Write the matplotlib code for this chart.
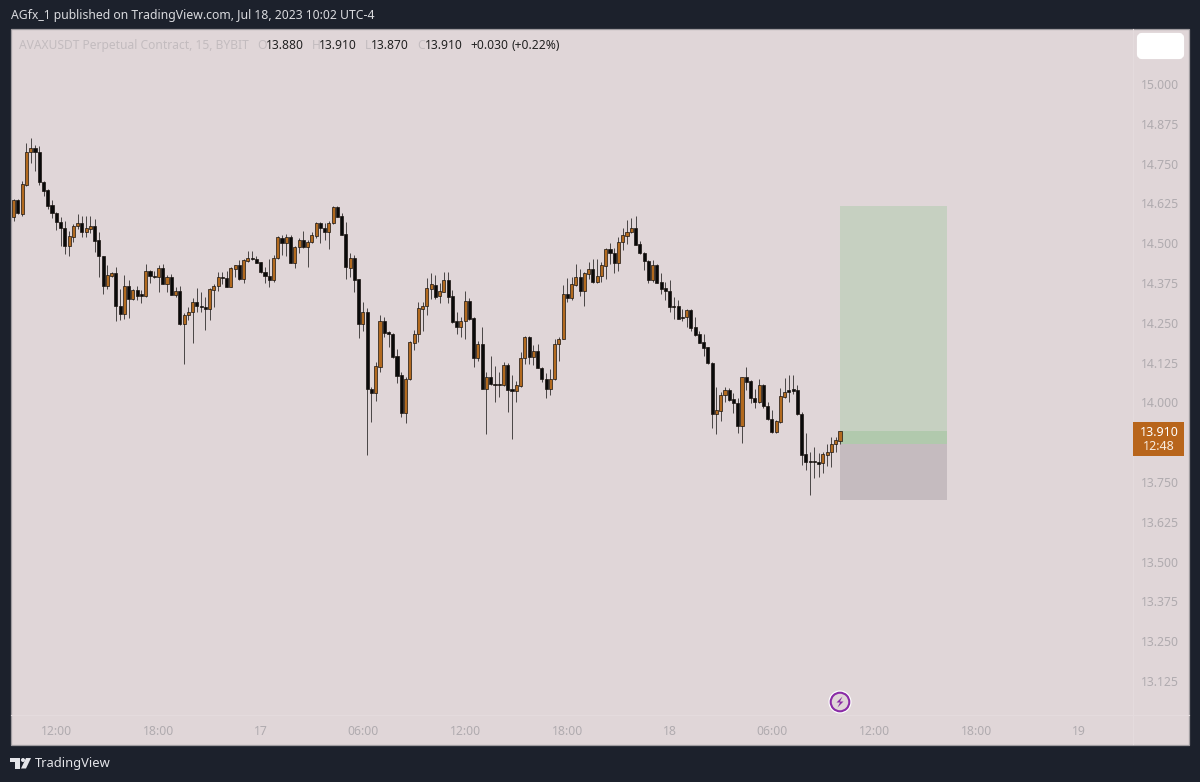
import matplotlib
matplotlib.use("Agg")
import matplotlib.pyplot as plt
from matplotlib.patches import Rectangle, Circle, FancyBboxPatch, Polygon

# ---------- data ----------
opens = [14.582,14.636,14.592,14.684,14.785,14.800,14.785,14.691,14.668,14.619,
 14.596,14.565,14.549,14.490,14.519,14.554,14.564,14.535,14.546,14.555,
 14.509,14.460,14.364,14.398,14.405,14.303,14.278,14.366,14.324,14.353,
 14.336,14.335,14.414,14.398,14.393,14.422,14.372,14.394,14.337,14.349,
 14.247,14.274,14.283,14.315,14.303,14.299,14.294,14.353,14.364,14.394,
 14.390,14.363,14.420,14.430,14.388,14.443,14.454,14.450,14.441,14.409,
 14.398,14.383,14.453,14.517,14.499,14.520,14.439,14.487,14.509,14.487,
 14.503,14.523,14.563,14.549,14.534,14.562,14.615,14.584,14.529,14.423,
 14.453,14.387,14.246,14.284,14.042,14.028,14.112,14.256,14.220,14.215,
 14.146,14.085,13.966,14.072,14.188,14.214,14.293,14.303,14.357,14.370,
 14.333,14.348,14.385,14.334,14.256,14.238,14.254,14.319,14.265,14.139,
 14.184,14.042,14.079,14.059,14.055,14.053,14.118,14.039,14.037,14.051,
 14.139,14.206,14.143,14.160,14.109,14.073,14.042,14.072,14.183,14.199,
 14.339,14.329,14.369,14.394,14.349,14.404,14.420,14.378,14.397,14.428,
 14.481,14.469,14.439,14.504,14.524,14.534,14.549,14.496,14.470,14.445,
 14.384,14.430,14.378,14.358,14.350,14.302,14.303,14.267,14.267,14.290,
 14.236,14.215,14.189,14.173,14.125,13.962,13.973,14.022,14.039,14.010,
 13.999,13.927,14.079,14.066,14.014,14.002,14.055,13.990,13.947,13.906,
 13.938,14.017,14.038,14.039,14.039,13.964,13.838,13.814,13.814,13.813,
 13.809,13.835,13.843,13.868,13.880]
highs = [14.638,14.638,14.694,14.814,14.829,14.809,14.804,14.694,14.670,14.636,
 14.599,14.582,14.571,14.537,14.560,14.591,14.584,14.584,14.584,14.575,
 14.535,14.460,14.430,14.411,14.425,14.356,14.400,14.385,14.356,14.364,
 14.353,14.434,14.416,14.414,14.430,14.434,14.401,14.404,14.362,14.366,
 14.282,14.299,14.327,14.359,14.346,14.330,14.359,14.372,14.409,14.409,
 14.414,14.425,14.432,14.446,14.450,14.474,14.474,14.460,14.442,14.425,
 14.450,14.463,14.521,14.526,14.529,14.526,14.492,14.515,14.539,14.510,
 14.535,14.566,14.566,14.562,14.571,14.617,14.617,14.594,14.565,14.470,
 14.463,14.389,14.316,14.295,14.049,14.128,14.274,14.269,14.224,14.217,
 14.167,14.096,14.081,14.194,14.227,14.314,14.316,14.390,14.405,14.400,
 14.374,14.408,14.408,14.353,14.283,14.267,14.351,14.329,14.267,14.194,
 14.236,14.096,14.146,14.114,14.094,14.128,14.123,14.086,14.068,14.159,
 14.208,14.208,14.180,14.183,14.110,14.093,14.105,14.199,14.204,14.369,
 14.390,14.395,14.434,14.419,14.411,14.442,14.449,14.449,14.442,14.484,
 14.502,14.484,14.518,14.547,14.573,14.578,14.585,14.508,14.473,14.447,
 14.447,14.434,14.405,14.379,14.384,14.330,14.322,14.292,14.293,14.292,
 14.267,14.225,14.215,14.175,14.127,14.049,14.034,14.049,14.045,14.028,
 14.013,14.081,14.110,14.070,14.041,14.073,14.058,14.002,13.976,13.945,
 14.044,14.076,14.086,14.086,14.053,13.971,13.903,13.845,13.859,13.842,
 13.845,13.868,13.892,13.890,13.910]
lows = [14.571,14.592,14.586,14.681,14.751,14.728,14.683,14.647,14.607,14.579,
 14.540,14.490,14.465,14.461,14.505,14.544,14.519,14.518,14.531,14.471,
 14.395,14.341,14.356,14.395,14.257,14.259,14.261,14.264,14.322,14.320,
 14.312,14.332,14.374,14.390,14.346,14.371,14.346,14.336,14.332,14.243,
 14.120,14.259,14.186,14.285,14.285,14.226,14.259,14.299,14.351,14.372,
 14.361,14.361,14.395,14.385,14.376,14.442,14.446,14.437,14.406,14.376,
 14.361,14.379,14.451,14.463,14.460,14.437,14.421,14.470,14.484,14.426,
 14.500,14.517,14.502,14.510,14.481,14.560,14.581,14.526,14.387,14.393,
 14.347,14.201,14.225,13.835,13.939,14.004,14.094,14.206,14.175,14.140,
 14.060,13.955,13.936,14.070,14.165,14.189,14.224,14.274,14.325,14.324,
 14.311,14.346,14.311,14.250,14.215,14.204,14.200,14.259,14.110,14.130,
 14.041,13.901,14.055,14.000,14.018,14.051,13.970,13.886,14.000,14.049,
 14.120,14.121,14.117,14.107,14.065,14.015,14.023,14.070,14.130,14.198,
 14.314,14.320,14.367,14.335,14.304,14.386,14.376,14.376,14.378,14.388,
 14.434,14.407,14.414,14.477,14.497,14.533,14.493,14.466,14.416,14.376,
 14.377,14.374,14.340,14.320,14.285,14.261,14.261,14.257,14.236,14.225,
 14.209,14.185,14.147,14.121,13.921,13.901,13.940,14.000,14.005,13.966,
 13.905,13.871,14.039,13.999,13.981,13.999,13.981,13.945,13.903,13.903,
 13.936,14.015,14.002,14.026,13.960,13.803,13.788,13.709,13.761,13.765,
 13.779,13.800,13.796,13.845,13.870]
closes = [14.636,14.594,14.686,14.786,14.800,14.785,14.691,14.665,14.618,14.594,
 14.565,14.548,14.490,14.521,14.555,14.564,14.536,14.548,14.555,14.508,
 14.460,14.364,14.400,14.406,14.303,14.278,14.365,14.324,14.353,14.335,
 14.335,14.414,14.397,14.394,14.422,14.373,14.395,14.338,14.349,14.247,
 14.274,14.284,14.314,14.302,14.299,14.294,14.356,14.367,14.394,14.390,
 14.363,14.421,14.430,14.388,14.446,14.454,14.449,14.439,14.409,14.397,
 14.385,14.454,14.518,14.499,14.520,14.439,14.489,14.510,14.487,14.505,
 14.525,14.563,14.547,14.534,14.563,14.615,14.583,14.527,14.424,14.452,
 14.384,14.246,14.284,14.042,14.028,14.114,14.256,14.219,14.215,14.143,
 14.084,13.966,14.073,14.191,14.215,14.295,14.304,14.359,14.371,14.332,
 14.349,14.385,14.332,14.252,14.238,14.256,14.319,14.262,14.139,14.184,
 14.042,14.079,14.058,14.055,14.053,14.118,14.038,14.037,14.053,14.140,
 14.206,14.144,14.160,14.109,14.072,14.042,14.073,14.184,14.199,14.339,
 14.329,14.371,14.394,14.349,14.406,14.420,14.378,14.398,14.430,14.481,
 14.468,14.439,14.505,14.525,14.535,14.548,14.495,14.468,14.444,14.384,
 14.430,14.376,14.356,14.349,14.298,14.299,14.263,14.264,14.290,14.235,
 14.213,14.188,14.172,14.123,13.962,13.975,14.023,14.038,14.008,13.997,
 13.927,14.079,14.064,14.014,14.001,14.055,13.989,13.947,13.906,13.940,
 14.019,14.034,14.033,14.037,13.962,13.835,13.813,13.812,13.812,13.807,
 13.837,13.845,13.869,13.881,13.910]

price_ticks = [15.000,14.875,14.750,14.625,14.500,14.375,14.250,14.125,14.000,
               13.750,13.625,13.500,13.375,13.250,13.125]
time_tick_bars = [10,34,58,82,106,130,154,178,202,226,250]
time_tick_labels = ["12:00","18:00","17","06:00","12:00","18:00","18","06:00","12:00","18:00","19"]

position_start_bar = 194
position_end_bar = 219.2
target_price = 14.617
entry_price = 13.910
band_price = 13.869
stop_price = 13.693

# ---------- colours ----------
DARK = "#1c212c"
PANEL = "#e0d6d8"
UP = "#b26a1f"
INK = "#0a0a0a"
WICK = "#454141"
AXTXT = "#b0abaf"
FADED = "#c3bcbf"
ORANGE = "#b8651b"

W, H = 1200, 782
plt.rcParams['font.family'] = ['Noto Sans', 'DejaVu Sans']
fig = plt.figure(figsize=(W/100, H/100), dpi=100, facecolor=DARK)

def frac_rect(x0, y0, x1, y1):
    return [x0/W, 1-y1/H, (x1-x0)/W, (y1-y0)/H]

# backdrop panel, pixel-space overlay for decoration
back = fig.add_axes([0,0,1,1], zorder=0)
back.set_xlim(0,W); back.set_ylim(H,0); back.axis('off')
back.add_patch(Rectangle((10.5,28.5),1178.5,716,facecolor=PANEL,edgecolor="#a09ca0",lw=0.9))
back.plot([1133,1133],[29,744],color="#e4dbdd",lw=0.8)
back.plot([11,1189],[715,715],color="#e4dbdd",lw=0.8)

# main chart
ax = fig.add_axes(frac_rect(11,29,1133,715), zorder=1)
ax.patch.set_alpha(0)
ax.set_xlim(-0.634,262.8)
ax.set_ylim(13.018,15.1727)
for s in ax.spines.values():
    s.set_visible(False)

n = len(opens)
xs = list(range(n))
ax.vlines(xs, lows, highs, color=WICK, lw=0.68, zorder=3)
bottoms = [min(o,c) for o,c in zip(opens,closes)]
heights = [max(abs(c-o),0.004) for o,c in zip(opens,closes)]
cols = [UP if c>o else INK for o,c in zip(opens,closes)]
ax.bar(xs, heights, bottom=bottoms, width=0.72, color=cols, edgecolor="#1a1410", linewidth=0.5, zorder=4)

# long-position tool
w = position_end_bar-position_start_bar
ax.add_patch(Rectangle((position_start_bar,entry_price),w,target_price-entry_price,facecolor="#c6d0c1",edgecolor="none",zorder=2))
ax.add_patch(Rectangle((position_start_bar,band_price),w,entry_price-band_price,facecolor="#b1c9ad",edgecolor="none",zorder=2))
ax.add_patch(Rectangle((position_start_bar,stop_price),w,band_price-stop_price,facecolor="#c5bbbf",edgecolor="none",zorder=2))

ax.yaxis.tick_right()
ax.set_yticks(price_ticks)
ax.set_yticklabels([f"{p:.3f}" for p in price_ticks], fontsize=8.8, color=AXTXT)
ax.set_xticks(time_tick_bars)
ax.set_xticklabels(time_tick_labels, fontsize=8.8, color=AXTXT)
ax.tick_params(axis='both', length=0)
ax.tick_params(axis='y', pad=6)
ax.tick_params(axis='x', pad=7)

# overlay
top = fig.add_axes([0,0,1,1], zorder=5)
top.set_xlim(0,W); top.set_ylim(H,0); top.axis('off'); top.patch.set_alpha(0)

top.text(11,16,"AGfx_1 published on TradingView.com, Jul 18, 2023 10:02 UTC-4",color="#d9dade",fontsize=8.8,va='center',ha='left')
top.text(19,45.5,"AVAXUSDT Perpetual Contract, 15, BYBIT",color=FADED,fontsize=8.67,va='center',ha='left')
legend_parts = [(257,"O",FADED),(266,"13.880","#222"),(312,"H",FADED),(319,"13.910","#222"),
                (365,"L",FADED),(371,"13.870","#222"),(417,"C",FADED),(425,"13.910","#222"),
                (470,"+0.030","#222"),(512,"(+0.22%)","#222")]
for x,t,c in legend_parts:
    top.text(x,45.5,t,color=c,fontsize=8.7,va='center',ha='left')

# white logo box
top.add_patch(FancyBboxPatch((1139,35),43,22,boxstyle="round,pad=0,rounding_size=3",facecolor="white",edgecolor="white",lw=3))

# price label
top.add_patch(Rectangle((1133,422),51,34,facecolor=ORANGE,edgecolor="none"))
top.text(1159,432,"13.910",color="white",fontsize=9,va='center',ha='center',fontweight='medium')
top.text(1159,446.5,"12:48",color="#f8ecdf",fontsize=9,va='center',ha='center')

# lightning icon
top.add_patch(Circle((840,702),11.5,facecolor="white",edgecolor="none"))
top.add_patch(Circle((840,702),9.3,facecolor=PANEL,edgecolor="#8a2ba6",lw=1.5))
top.add_patch(Polygon([(842.5,696.5),(836.5,702.5),(840,702.5),(837.5,707.5),(843.5,701.5),(840,701.5)],closed=True,facecolor="#8a2ba6",edgecolor="none"))

# TradingView logo
logo = "#e4e5e9"
top.add_patch(Polygon([(10,758),(20,758),(20,768.5),(15,768.5),(15,762),(10,762)],closed=True,facecolor=logo,edgecolor="none"))
top.add_patch(Circle((23,760),2,facecolor=logo,edgecolor="none"))
top.add_patch(Polygon([(26,758),(31,758),(26,768.5),(21,768.5)],closed=True,facecolor=logo,edgecolor="none"))
top.text(35,764,"TradingView",color=logo,fontsize=9.3,va='center',ha='left')

fig.savefig("out.png",dpi=100,facecolor=DARK)
